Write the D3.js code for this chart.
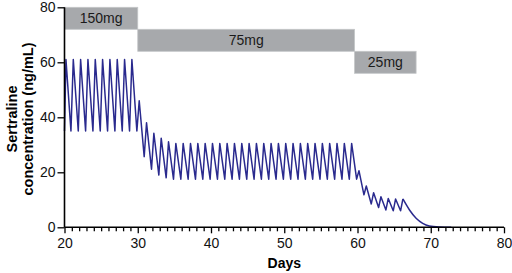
<!DOCTYPE html>
<html>
<head>
<meta charset="utf-8">
<script src="https://cdn.jsdelivr.net/npm/d3@7"></script>
<style>
  body { margin: 0; background: #fff; }
  svg { display: block; font-family: "Liberation Sans", Arial, sans-serif; }
</style>
</head>
<body>
<svg id="chart" width="512" height="273"></svg>
<script>
// dose days
const doseDays = [20,21,22,23,24,25,26,27,28,29,30,31,32,33,34,35,36,37,38,39,40,41,42,43,44,45,46,47,48,49,50,51,52,53,54,55,56,57,58,59,60,61,62,63,64,65,66];
// trough just before each dose (ng/mL)
const troughs = [35,35,35,35,35,35,35,35,35,35, 35,25.7,21.1,19,18, 17.5,17.5,17.5,17.5,17.5,17.5,17.5,17.5,17.5,17.5,17.5,17.5,17.5,17.5,17.5,17.5,17.5,17.5,17.5,17.5,17.5,17.5,17.5,17.5,17.5, 17.5,11.8,8.5,7.2,6.3,6,6];
// peak after each dose (ng/mL)
const peaks = [61,61,61,61,61,61,61,61,61,61, 46,38,34.2,32.4,31.1, 30.5,30.5,30.5,30.5,30.5,30.5,30.5,30.5,30.5,30.5,30.5,30.5,30.5,30.5,30.5,30.5,30.5,30.5,30.5,30.5,30.5,30.5,30.5,30.5,30.5, 20.6,15,12.6,11.1,10.5,10.3,10.3];
// washout after last dose
const tailDays = [67.1, 68, 68.9, 69.8, 71.2, 72.8];
const tailConc = [6.3, 3.3, 1.45, 0.5, 0.12, 0];

// dosing bars
const doseLabels = ["150mg", "75mg", "25mg"];
const doseStart = [20, 30, 59.6];
const doseEnd = [30, 59.6, 68];
const doseTop = [80, 72, 64];
const doseBottom = [72, 64, 56];

const xTicks = [20, 30, 40, 50, 60, 70, 80];
const yTicks = [0, 20, 40, 60, 80];

const svg = d3.select("#chart");
const x = d3.scaleLinear().domain([20, 80]).range([64.5, 504]);
const y = d3.scaleLinear().domain([0, 80]).range([227.3, 7.3]);

// dose bars
const bars = svg.append("g");
doseLabels.forEach((lab, i) => {
    bars.append("rect")
        .attr("x", x(doseStart[i]))
        .attr("y", y(doseTop[i]))
        .attr("width", x(doseEnd[i]) - x(doseStart[i]))
        .attr("height", y(doseBottom[i]) - y(doseTop[i]))
        .attr("fill", "#a7a9ac")
        .attr("stroke", "#c4c6c8")
        .attr("stroke-width", 0.8);
    bars.append("text")
        .attr("x", (x(doseStart[i]) + x(doseEnd[i])) / 2)
        .attr("y", (y(doseTop[i]) + y(doseBottom[i])) / 2)
        .attr("dy", "0.36em")
        .attr("text-anchor", "middle")
        .attr("font-size", 14)
        .attr("fill", "#1a1a1a")
        .text(lab);
});

// concentration curve: dosing zigzag (sharp) + smooth washout
const pts = [];
doseDays.forEach((d, i) => {
    pts.push([i === 0 ? d : d - 0.12, troughs[i]]);
    pts.push([d + 0.2, peaks[i]]);
});
const tail = [pts[pts.length - 1]];
tailDays.forEach((d, i) => tail.push([d, tailConc[i]]));

const line = d3.line()
    .x(d => x(d[0]))
    .y(d => y(d[1]));

svg.append("path")
    .datum(pts)
    .attr("fill", "none")
    .attr("stroke", "#2a2a8e")
    .attr("stroke-width", 1.5)
    .attr("stroke-linejoin", "round")
    .attr("d", line);

svg.append("path")
    .datum(tail)
    .attr("fill", "none")
    .attr("stroke", "#2a2a8e")
    .attr("stroke-width", 1.5)
    .attr("d", line.curve(d3.curveMonotoneX));

// axes
const xAxis = svg.append("g")
    .attr("transform", `translate(0,${y(0)})`)
    .call(d3.axisBottom(x).tickValues(xTicks).tickSize(6).tickPadding(5).tickFormat(d3.format("d")));
const minor = svg.append("g")
    .attr("transform", `translate(0,${y(0)})`)
    .call(d3.axisBottom(x).tickValues(d3.range(21, 80).filter(v => v % 10 !== 0)).tickSize(4).tickFormat(""));
minor.select(".domain").remove();
const yAxis = svg.append("g")
    .attr("transform", `translate(${x(20)},0)`)
    .call(d3.axisLeft(y).tickValues(yTicks).tickSize(7).tickPadding(2));

[xAxis, minor, yAxis].forEach(a => {
    a.selectAll(".domain").attr("stroke", "#000").attr("stroke-width", 1.6);
    a.selectAll(".tick line").attr("stroke", "#000").attr("stroke-width", 1.3);
    a.selectAll(".tick text").attr("font-size", 14).attr("fill", "#111")
        .attr("font-family", "Liberation Sans, Arial, sans-serif");
});
xAxis.select(".domain").attr("d", `M${x(20)},0H${x(80)}`);
yAxis.select(".domain").attr("d", `M0,${y(80)}V${y(0)}`);

// axis titles
svg.append("text")
    .attr("x", (x(20) + x(80)) / 2)
    .attr("y", 268)
    .attr("text-anchor", "middle")
    .attr("font-size", 14)
    .attr("font-weight", "bold")
    .text("Days");

const yl = svg.append("text")
    .attr("transform", `translate(17,119) rotate(-90)`)
    .attr("text-anchor", "middle")
    .attr("font-size", 14.5)
    .attr("font-weight", "bold");
yl.append("tspan").attr("x", 0).attr("dy", 0).text("Sertraline");
yl.append("tspan").attr("x", 0).attr("dy", 16).text("concentration (ng/mL)");
</script>
</body>
</html>
